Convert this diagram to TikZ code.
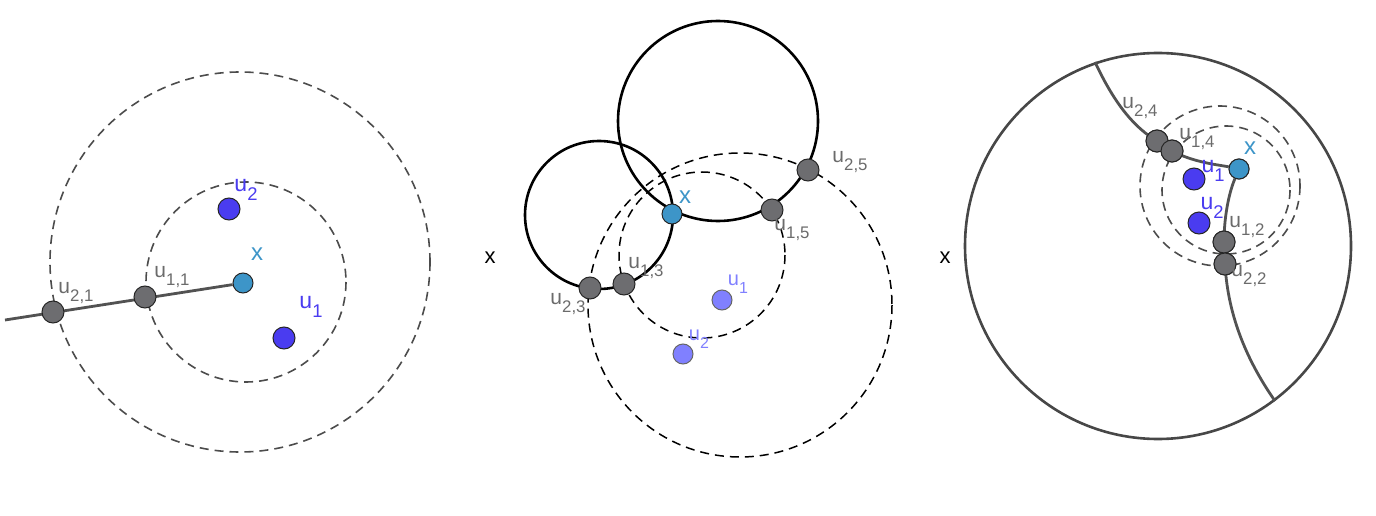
\documentclass[tikz,border=0pt]{standalone}
\usepackage{fontspec}
\setmainfont{Liberation Sans}
\newcommand{\lab}[2]{#1\raisebox{-0.4em}{\fontsize{0.8em}{0.8em}\selectfont #2}}
\begin{document}
\begin{tikzpicture}[x=1pt,y=-1pt,
  dsh/.style={dashed,dash pattern=on 9pt off 6pt,line width=1.6pt,draw=black!70},
  dshk/.style={dashed,dash pattern=on 9pt off 6pt,line width=1.5pt,draw=black},
  solidc/.style={line width=2.6pt,draw=black},
  path/.style={line width=2.8pt,draw=black!68},
  gp/.style={circle,draw=black!85,minimum size=22pt,inner sep=0pt,line width=1pt},
  xp/.style={circle,draw=black!85,minimum size=20pt,inner sep=0pt,line width=1pt},
  up/.style={circle,draw=black!85,minimum size=22pt,inner sep=0pt,line width=1pt},
  upl/.style={circle,draw=black!60,minimum size=20pt,inner sep=0pt,line width=1pt},
  gl/.style={text=black!58,font=\fontsize{21}{21}\selectfont,inner sep=0pt},
  xl/.style={font=\fontsize{24}{24}\selectfont,inner sep=0pt},
  ul/.style={font=\fontsize{23}{23}\selectfont,inner sep=0pt},
  ull/.style={font=\fontsize{20}{20}\selectfont,inner sep=0pt}]
\definecolor{cx}{HTML}{3D95C8}\definecolor{cu}{HTML}{4A3CF0}\definecolor{cul}{HTML}{8080FF}\definecolor{cg}{HTML}{6D6D70}
\tikzset{xp/.append style={fill=cx},up/.append style={fill=cu},upl/.append style={fill=cul},gp/.append style={fill=cg},
  xl/.append style={text=cx},ul/.append style={text=cu},ull/.append style={text=cul}}
\useasboundingbox (0,0) rectangle (1376,516);
% left panel
\draw[dsh] (240,262) circle[radius=190];
\draw[dsh] (246,282) circle[radius=100];
\coordinate (lstart) at (5,320);
\node[xp] (x1) at (243,283) {};
\draw[path] (lstart) -- (x1);
\node[gp] (u21) at (53,312) {};
\node[gp] (u11) at (145,297) {};
\node[up] (u2a) at (229,209) {};
\node[up] (u1a) at (284,338) {};
\node[gl] (l21) at (76,293) {\lab{u}{2,1}};
\node[gl] (l11) at (172,277) {\lab{u}{1,1}};
\node[xl] (lx1) at (257,254) {x};
\node[ul] (lu1) at (311,307) {\lab{u}{1}};
\node[ul] (lu2) at (246,190) {\lab{u}{2}};
\node[font=\fontsize{22}{22}\selectfont] (sep1) at (490,258) {x};
\node[font=\fontsize{22}{22}\selectfont] (sep2) at (945,258) {x};
% middle panel
\draw[dshk] (740,305) circle[radius=152];
\draw[dshk] (702,255) circle[radius=83];
\draw[solidc] (718,121) circle[radius=100];
\draw[solidc] (599,215) circle[radius=74];
\node[xp] (x2) at (672,214) {};
\node[gp] (u15) at (772,210) {};
\node[gp] (u25) at (808,170) {};
\node[gp] (u13) at (624,284) {};
\node[gp] (u23) at (590,288) {};
\node[upl] (u1b) at (722,300) {};
\node[upl] (u2b) at (683,354) {};
\node[gl] (l25) at (850,162) {\lab{u}{2,5}};
\node[gl] (l15) at (792,230) {\lab{u}{1,5}};
\node[gl] (l13) at (646,268) {\lab{u}{1,3}};
\node[gl] (l23) at (568,304) {\lab{u}{2,3}};
\node[xl] (lx2) at (685,197) {x};
\node[ull] (lu1b) at (738,284) {\lab{u}{1}};
\node[ull] (lu2b) at (699,339) {\lab{u}{2}};
% right panel
\draw[line width=2.6pt,draw=black!72] (1158,246) circle[radius=193];
\draw[dsh] (1220,186) circle[radius=80];
\draw[dsh] (1226,190) circle[radius=64];
\coordinate (rtop) at (1095,62);
\coordinate (rbot) at (1275,401);
\node[xp] (x3) at (1239,169) {};
\node[gp] (u24) at (1157,141) {};
\node[gp] (u14) at (1172,151) {};
\node[gp] (u12) at (1224,242) {};
\node[gp] (u22) at (1225,264) {};
\draw[path] (rtop) .. controls (1115,105) and (1135,128) .. (u24.center) -- (u14.center) .. controls (1195,163) and (1220,165) .. (x3);
\draw[path] (x3) .. controls (1228,195) and (1224,220) .. (u12.center) -- (u22.center) .. controls (1228,320) and (1250,365) .. (rbot);
\node[gp] at (u24) {};\node[gp] at (u14) {};\node[gp] at (u12) {};\node[gp] at (u22) {};\node[xp] at (x3) {};
\node[up] (u1c) at (1194,179) {};
\node[up] (u2c) at (1199,223) {};
\node[gl] (l24) at (1140,108) {\lab{u}{2,4}};
\node[gl] (l14) at (1197,139) {\lab{u}{1,4}};
\node[gl] (l12) at (1247,227) {\lab{u}{1,2}};
\node[gl] (l22) at (1249,276) {\lab{u}{2,2}};
\node[xl] (lx3) at (1250,148) {x};
\node[ul] (lu1c) at (1213,171) {\lab{u}{1}};
\node[ul] (lu2c) at (1212,208) {\lab{u}{2}};
\end{tikzpicture}
\end{document}
